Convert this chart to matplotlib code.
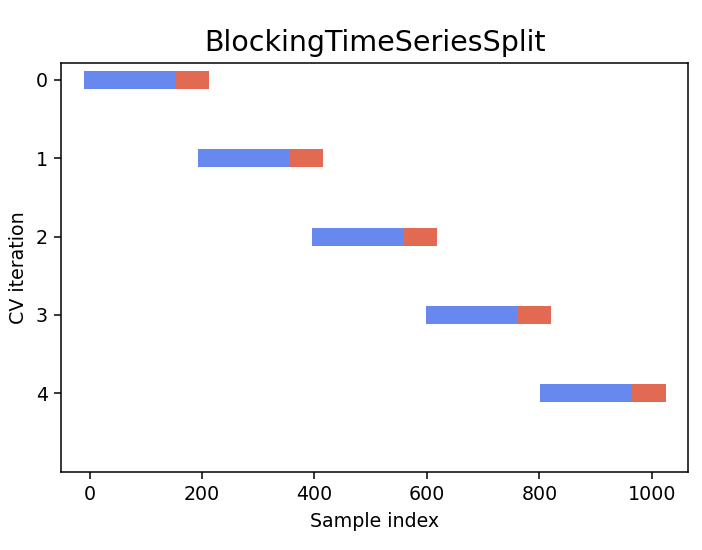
import numpy as np
import matplotlib
matplotlib.use("Agg")
import matplotlib.pyplot as plt
from matplotlib.path import Path

# Data: BlockingTimeSeriesSplit folds (sample index boundaries)
n_samples = 1019
fold_labels = ["0", "1", "2", "3", "4"]
train_start = [0, 203, 406, 609, 812]
test_start = [162, 365, 568, 771, 974]
test_stop = [203, 406, 609, 812, 1015]

DPI = 137
fig = plt.figure(figsize=(702 / DPI, 550 / DPI), dpi=DPI)
ax = fig.add_axes([0.0869, 0.1424, 0.8936, 0.7436])

# rectangular marker: 6pt wide x 9.6pt tall (square ends)
mw, mh = 6.0, 9.6
half_w = 0.5 * mw / mh
rect = Path([(-half_w, -0.5), (half_w, -0.5), (half_w, 0.5), (-half_w, 0.5), (-half_w, -0.5)],
            [Path.MOVETO, Path.LINETO, Path.LINETO, Path.LINETO, Path.CLOSEPOLY])

cmap_cv = plt.cm.coolwarm
for ii in range(len(fold_labels)):
    indices = np.full(n_samples, np.nan)
    indices[train_start[ii]:test_start[ii]] = 0
    indices[test_start[ii]:test_stop[ii]] = 1
    ax.scatter(range(n_samples), [ii] * n_samples, c=indices, marker=rect,
               s=mh ** 2, linewidths=0, edgecolors="none",
               cmap=cmap_cv, vmin=-0.2, vmax=1.2)

ax.set_yticks(range(len(fold_labels)))
ax.set_yticklabels(fold_labels)
ax.set_ylim(5.0, -0.22)
ax.set_xlabel("Sample index")
ax.set_ylabel("CV iteration")
ax.set_title("BlockingTimeSeriesSplit", fontsize=15)

fig.savefig("out.png", dpi=DPI)
